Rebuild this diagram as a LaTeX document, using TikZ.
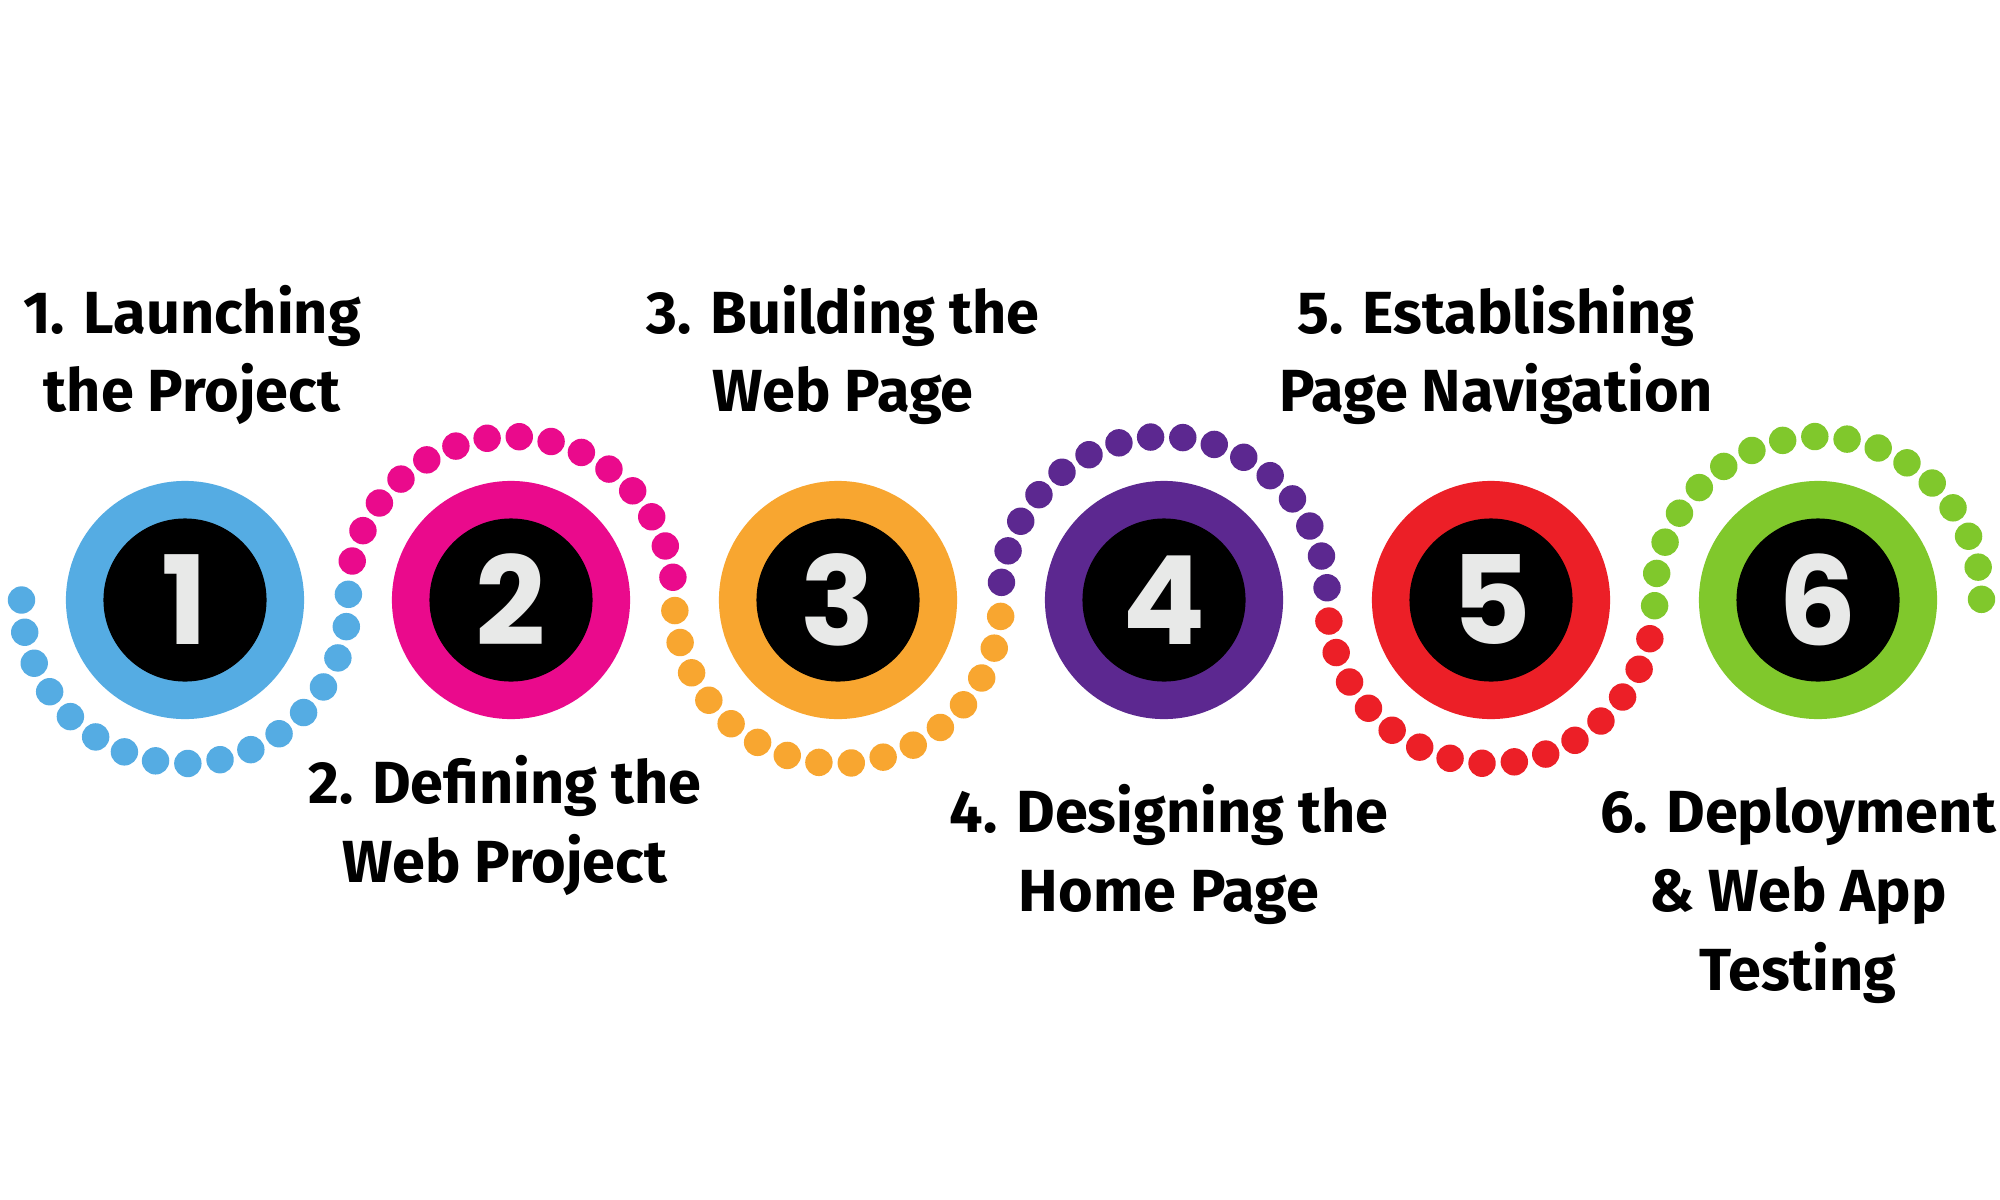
\documentclass[tikz,border=0pt]{standalone}
\usepackage{fontspec}
\setmainfont{Fira Sans}
\newfontfamily\numfont{Poppins}
\definecolor{cBlue}{HTML}{55ACE3}
\definecolor{cPink}{HTML}{EA0A8C}
\definecolor{cOrange}{HTML}{F8A630}
\definecolor{cPurple}{HTML}{5C2890}
\definecolor{cRed}{HTML}{EC1F27}
\definecolor{cGreen}{HTML}{80C82C}
\definecolor{cDigit}{HTML}{E8E9E8}
\begin{document}
\begin{tikzpicture}[x=0.01cm,y=-0.01cm,
  ring/.style={circle,inner sep=0pt,minimum size=2.38cm},
  core/.style={circle,fill=black,inner sep=0pt,minimum size=1.63cm,text=cDigit,
    font=\numfont\bfseries\fontsize{35}{35}\selectfont},
  lbl/.style={anchor=base,inner sep=0pt,font=\bfseries\fontsize{16.9}{20}\selectfont}]
\fill[white] (0,0) rectangle (2000,1200);
\useasboundingbox (0,0) rectangle (2000,1200);

% dotted arcs
\foreach \k in {0,...,16}{\pgfmathsetmacro\a{180+11.375*\k}
  \fill[cBlue] ({185+163.5*cos(\a)},{600-163.5*sin(\a)}) circle[radius=0.137cm];}
\foreach \k in {0,...,14}{\pgfmathsetmacro\a{166.2-11.3*\k}
  \fill[cPink] ({511+163.5*cos(\a)},{600-163.5*sin(\a)}) circle[radius=0.137cm];}
\foreach \k in {0,...,15}{\pgfmathsetmacro\a{183.7+11.37*\k}
  \fill[cOrange] ({838+163.5*cos(\a)},{600-163.5*sin(\a)}) circle[radius=0.137cm];}
\foreach \k in {0,...,15}{\pgfmathsetmacro\a{173.8-11.3*\k}
  \fill[cPurple] ({1164+163.5*cos(\a)},{600-163.5*sin(\a)}) circle[radius=0.137cm];}
\foreach \k in {0,...,14}{\pgfmathsetmacro\a{187.4+11.35*\k}
  \fill[cRed] ({1491+163.5*cos(\a)},{600-163.5*sin(\a)}) circle[radius=0.137cm];}
\foreach \k in {0,...,16}{\pgfmathsetmacro\a{182-11.36*\k}
  \fill[cGreen] ({1818+163.5*cos(\a)},{600-163.5*sin(\a)}) circle[radius=0.137cm];}

% rings
\node[ring,fill=cBlue]   (r1) at (185,600) {};
\node[ring,fill=cPink]   (r2) at (511,600) {};
\node[ring,fill=cOrange] (r3) at (838,600) {};
\node[ring,fill=cPurple] (r4) at (1164,600) {};
\node[ring,fill=cRed]    (r5) at (1491,600) {};
\node[ring,fill=cGreen]  (r6) at (1818,600) {};
\node[core] (n1) at (r1) {1};
\node[core] (n2) at (r2) {2};
\node[core] (n3) at (r3) {3};
\node[core] (n4) at (r4) {4};
\node[core] (n5) at (r5) {5};
\node[core] (n6) at (r6) {6};

% labels
\node[lbl] (t1a) at (192,333) {1. Launching};
\node[lbl] (t1b) at (192,411) {the Project};
\node[lbl] (t3a) at (843,333) {3. Building the};
\node[lbl] (t3b) at (843,411) {Web Page};
\node[lbl] (t5a) at (1496,333) {5. Establishing};
\node[lbl] (t5b) at (1496,411) {Page Navigation};
\node[lbl] (t2a) at (505,803) {2. Defining the};
\node[lbl] (t2b) at (505,882) {Web Project};
\node[lbl] (t4a) at (1169,832) {4. Designing the};
\node[lbl] (t4b) at (1169,911) {Home Page};
\node[lbl] (t6a) at (1798,832) {6. Deployment};
\node[lbl] (t6b) at (1798,911) {\& Web App};
\node[lbl] (t6c) at (1798,990) {Testing};
\end{tikzpicture}
\end{document}
